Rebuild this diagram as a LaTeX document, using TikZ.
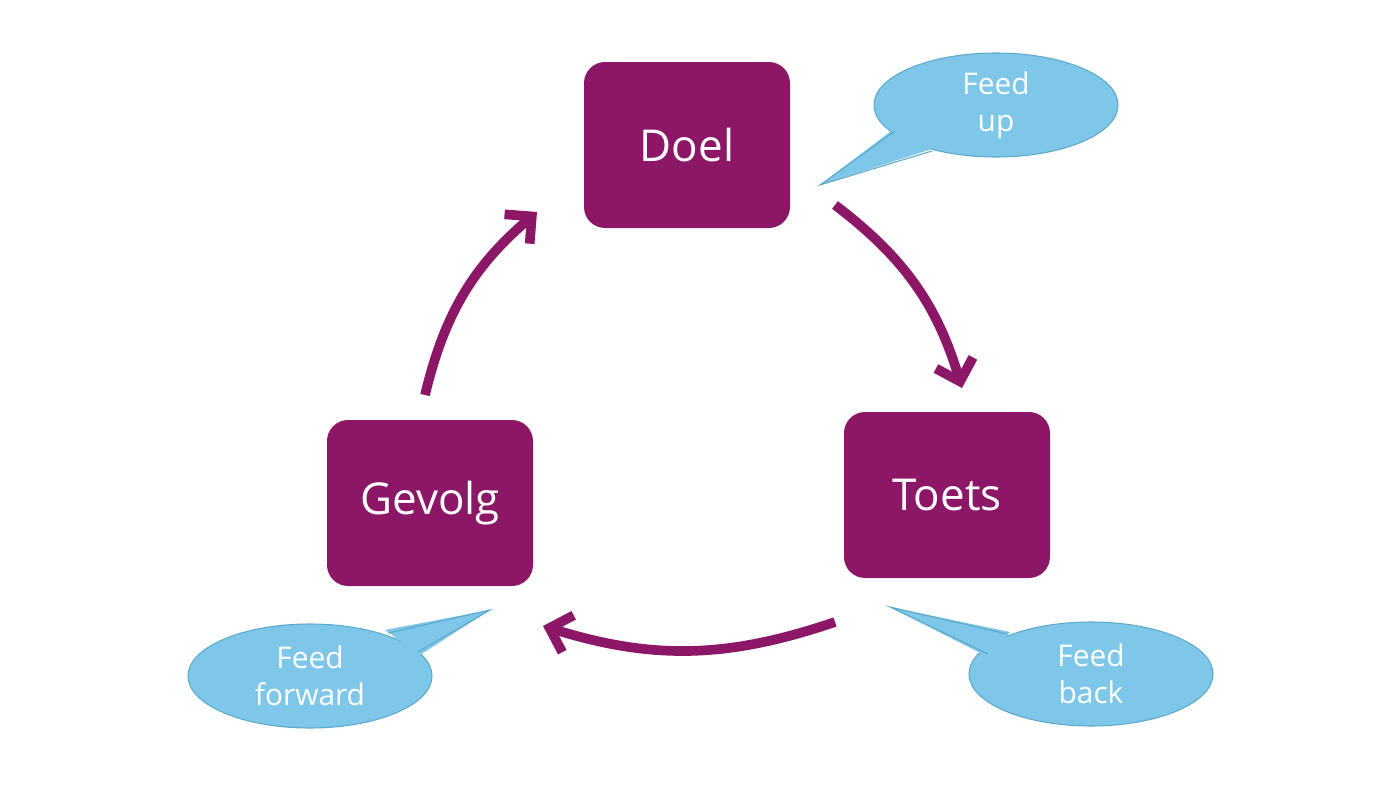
\documentclass[tikz,border=0pt]{standalone}
\usepackage{fontspec}
\setmainfont{Open Sans}
\usetikzlibrary{arrows.meta}
\definecolor{pur}{HTML}{8C1766}
\definecolor{sky}{HTML}{7FC7E8}
\definecolor{skyb}{HTML}{5AA9CC}
\begin{document}
\begin{tikzpicture}[x=0.02cm,y=-0.02cm,
  box/.style={fill=pur,rounded corners=12pt,minimum width=206*0.02cm,minimum height=166*0.02cm,text=white,font=\fontsize{25}{30}\selectfont,inner sep=0},
  bub/.style={fill=sky,draw=skyb,line width=0.6pt},
  btxt/.style={text=white,font=\fontsize{17}{21}\selectfont,align=center},
  arr/.style={draw=pur,line width=5.5pt,-{Straight Barb[length=11pt,width=22pt,line width=5.5pt]}}]
\useasboundingbox (0,0) rectangle (1400,788);
\node[box] (doel) at (687,145) {Doel};
\node[box] (toets) at (947,495) {Toets};
\node[box] (gevolg) at (430,503) {Gevolg};
% bubbles
\path[bub] (996,105) ellipse [x radius=122,y radius=52];
\fill[sky] (820,185) -- (895,128) -- (935,148) -- cycle;
\draw[skyb,line width=0.6pt] (895,131) -- (820,185) -- (932,151);
\node[btxt] (fu) at (996,105) {Feed\\up};
\path[bub] (1091,674) ellipse [x radius=122,y radius=52];
\fill[sky] (890,607) -- (1010,632) -- (990,658) -- cycle;
\draw[skyb,line width=0.6pt] (1007,634) -- (890,607) -- (988,654);
\node[btxt] (fb) at (1091,674) {Feed\\back};
\path[bub] (310,676) ellipse [x radius=122,y radius=52];
\fill[sky] (490,610) -- (385,630) -- (420,655) -- cycle;
\draw[skyb,line width=0.6pt] (388,633) -- (490,610) -- (418,652);
\node[btxt] (ff) at (310,676) {Feed\\forward};
% arrows
\coordinate (a1) at (835,205); \coordinate (a2) at (962,388);
\coordinate (b1) at (835,622); \coordinate (b2) at (543,626);
\coordinate (c1) at (425,395); \coordinate (c2) at (537,212);
\draw[arr] (a1) to[bend left=18] (a2);
\draw[arr] (b1) to[bend left=18] (b2);
\draw[arr] (c1) to[bend left=18] (c2);
\end{tikzpicture}
\end{document}
